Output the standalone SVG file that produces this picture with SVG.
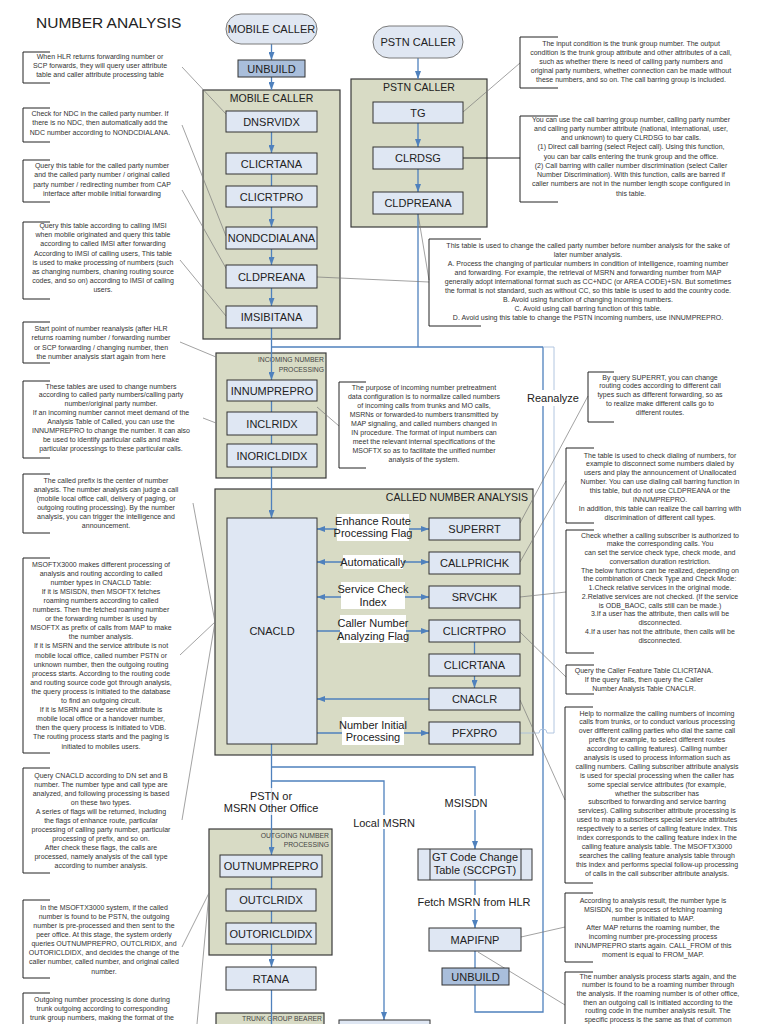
<svg xmlns="http://www.w3.org/2000/svg" width="768" height="1024" viewBox="0 0 768 1024">
<defs>
<marker id="ah" viewBox="0 0 8 6" refX="8" refY="3" markerWidth="8" markerHeight="6" markerUnits="userSpaceOnUse" orient="auto-start-reverse"><path d="M0,0 L8,3 L0,6 z" fill="#4f81bd"/></marker>
<style>
.node rect{fill:#dfe7f3;stroke:#333;stroke-width:1}
.node rect.dark{fill:#a9bedb}
.term rect{fill:#e0e7f2;stroke:#7a7a7a;stroke-width:1}
.nt{font-family:"Liberation Sans",Arial,sans-serif;font-size:11px;fill:#222;text-anchor:middle}
.grp{fill:#d8dbc5;stroke:#3a3a3a;stroke-width:1.2}
.gt{font-family:"Liberation Sans",Arial,sans-serif;font-size:10.5px;fill:#222}
.sg{font-family:"Liberation Sans",Arial,sans-serif;font-size:6.8px;fill:#444;text-anchor:end}
.ann{font-family:"Liberation Sans",Arial,sans-serif;font-size:7px;fill:#333;text-anchor:middle}
.br{fill:none;stroke:#222;stroke-width:1}
.cl{fill:none;stroke:#4f81bd;stroke-width:1.3}
.ca{fill:none;stroke:#4f81bd;stroke-width:1.3;marker-end:url(#ah)}
.cd{fill:none;stroke:#4f81bd;stroke-width:1.3;marker-end:url(#ah);marker-start:url(#ah)}
.lead{fill:none;stroke:#7a7a7a;stroke-width:0.7}
.lbl{font-family:"Liberation Sans",Arial,sans-serif;font-size:11px;fill:#222;text-anchor:middle}
.bg{fill:#fff}
</style>
</defs>
<rect width="768" height="1024" fill="#fff"/>
<text x="36" y="27.5" font-family="Liberation Sans, Arial, sans-serif" font-size="15.5" fill="#222">NUMBER ANALYSIS</text>

<!-- group frames -->
<g id="grp-mobile"><rect class="grp" x="203" y="90" width="137" height="249"/><text class="gt" x="271.5" y="102" text-anchor="middle">MOBILE CALLER</text></g>
<g id="grp-pstn"><rect class="grp" x="351" y="79" width="136" height="148"/><text class="gt" x="419" y="90.5" text-anchor="middle">PSTN CALLER</text></g>
<g id="grp-incoming"><rect class="grp" x="216" y="353" width="110" height="125"/><text class="sg" x="324" y="362">INCOMING NUMBER</text><text class="sg" x="324" y="371.5">PROCESSING</text></g>
<g id="grp-called"><rect class="grp" x="215" y="489" width="318" height="266"/><text class="gt" x="528" y="501" text-anchor="end">CALLED NUMBER ANALYSIS</text></g>
<g id="grp-outgoing"><rect class="grp" x="209" y="829" width="123" height="126"/><text class="sg" x="329" y="837.5">OUTGOING NUMBER</text><text class="sg" x="329" y="847">PROCESSING</text></g>
<g id="grp-trunk"><rect class="grp" x="216" y="1013" width="108" height="20"/><text class="sg" x="322" y="1020.5">TRUNK GROUP BEARER</text></g>

<g id="connectors">
<path class="ca" d="M271.5,44 V60"/>
<path class="ca" d="M271.5,77 V90"/>
<path class="ca" d="M271.5,132 V153"/>
<path class="cl" d="M271.5,174 V186"/>
<path class="ca" d="M271.5,207 V227"/>
<path class="ca" d="M271.5,249 V265"/>
<path class="ca" d="M271.5,288 V306"/>
<path class="ca" d="M271.5,328 V380"/>
<path class="ca" d="M418,58 V79"/>
<path class="ca" d="M418,123 V147"/>
<path class="ca" d="M418,169 V192"/>
<path class="cl" d="M418,214 V347"/>
<path class="cl" d="M271.5,347 H543"/>
<path class="cl" d="M271.5,401 V412 M271.5,435 V444"/>
<path class="ca" d="M271.5,467 V518"/>
<path class="cd" d="M317,529 H429"/>
<path class="cd" d="M317,562 H429"/>
<path class="cd" d="M317,597 H429"/>
<path class="ca" d="M317,631 H429"/>
<path class="cl" d="M474.5,642 V654"/>
<path class="ca" d="M474.5,676 V688"/>
<path class="ca" d="M429,699 H317"/>
<path class="ca" d="M317,733 H429"/>
<path class="ca" d="M271.5,744 V855"/>
<path class="ca" d="M271.5,767 H475 V849"/>
<path class="ca" d="M271.5,781 H384 V1020"/>
<path class="cl" d="M271.5,877 V889 M271.5,911 V923"/>
<path class="ca" d="M271.5,944 V967"/>
<path class="cl" d="M271.5,990 V1030"/>
<path class="ca" d="M475,880 V928"/>
<path class="cl" d="M475,951 V968"/>
<path class="cl" d="M475,985 V1012 H543 V347"/>
<path fill="none" stroke="#a9bfdc" stroke-width="0.9" d="M520,733 H539 A4,4 0 0 1 547,733 H554 V347 H543"/>
<!-- leader lines -->
<path class="lead" d="M182,67 L226,114"/>
<path class="lead" d="M182,125 L226,236"/>
<path class="lead" d="M182,190 L227,270"/>
<path class="lead" d="M180,260 L226,316"/>
<path class="lead" d="M180,342 L216,357"/>
<path class="lead" d="M203,418 L216,423"/>
<path class="lead" d="M463,112 L520,63"/>
<path fill="none" stroke="#222" stroke-width="1" d="M463,158 L520,158"/>
<path class="lead" d="M317,277 L429,282"/>
<path class="lead" d="M418,214 L429,280"/>
<path class="lead" d="M317,407 L339,426"/>
<path class="lead" d="M520,523 L588,396"/>
<path class="lead" d="M520,562 L566,481"/>
<path class="lead" d="M520,597 L566,592"/>
<path class="lead" d="M520,632 L566,677"/>
<path class="lead" d="M520,700 L565,800"/>
<path class="lead" d="M521,937 L565,927"/>
<path class="lead" d="M478,952 L565,1005"/>
<path class="lead" d="M193,503 L215,622"/>
<path class="lead" d="M180,655 L215,622"/>
<path class="lead" d="M182,820 L215,622"/>
<path class="lead" d="M182,947 L209,893"/>
<path class="lead" d="M197,1024 L209,893"/>
</g>

<!-- nodes -->
<g id="mobile-caller-start" class="term"><rect x="226" y="14" width="91" height="30" rx="15"/><text class="nt" x="271.5" y="33">MOBILE CALLER</text></g>
<g id="pstn-caller-start" class="term"><rect x="373" y="26" width="90" height="32" rx="16"/><text class="nt" x="418" y="46">PSTN CALLER</text></g>
<g id="unbuild-1" class="node"><rect class="dark" x="238" y="60" width="67" height="17"/><text class="nt" x="271.5" y="72.5">UNBUILD</text></g>
<g id="dnsrvidx" class="node"><rect x="226" y="111" width="91" height="21"/><text class="nt" x="271.5" y="125.5">DNSRVIDX</text></g>
<g id="clicrtana-1" class="node"><rect x="226" y="153" width="91" height="21"/><text class="nt" x="271.5" y="167.5">CLICRTANA</text></g>
<g id="clicrtpro-1" class="node"><rect x="226" y="186" width="91" height="21"/><text class="nt" x="271.5" y="200.5">CLICRTPRO</text></g>
<g id="nondcdialana" class="node"><rect x="226" y="227" width="91" height="22"/><text class="nt" x="271.5" y="242">NONDCDIALANA</text></g>
<g id="cldpreana-m" class="node"><rect x="226" y="265" width="91" height="23"/><text class="nt" x="271.5" y="280.5">CLDPREANA</text></g>
<g id="imsibitana" class="node"><rect x="226" y="306" width="91" height="22"/><text class="nt" x="271.5" y="321">IMSIBITANA</text></g>
<g id="tg" class="node"><rect x="373" y="102" width="90" height="21"/><text class="nt" x="418" y="116.5">TG</text></g>
<g id="clrdsg" class="node"><rect x="373" y="147" width="90" height="22"/><text class="nt" x="418" y="162">CLRDSG</text></g>
<g id="cldpreana-p" class="node"><rect x="373" y="192" width="90" height="22"/><text class="nt" x="418" y="207">CLDPREANA</text></g>
<g id="innumprepro" class="node"><rect x="227" y="380" width="90" height="21"/><text class="nt" x="272" y="394.5">INNUMPREPRO</text></g>
<g id="inclridx" class="node"><rect x="227" y="412" width="90" height="23"/><text class="nt" x="272" y="427.5">INCLRIDX</text></g>
<g id="inoricldidx" class="node"><rect x="227" y="444" width="90" height="23"/><text class="nt" x="272" y="459.5">INORICLDIDX</text></g>
<g id="cnacld" class="node"><rect x="227" y="518" width="90" height="226"/><text class="nt" x="272" y="635">CNACLD</text></g>
<g id="superrt" class="node"><rect x="429" y="518" width="91" height="22"/><text class="nt" x="474.5" y="533">SUPERRT</text></g>
<g id="callprichk" class="node"><rect x="429" y="552" width="91" height="22"/><text class="nt" x="474.5" y="567">CALLPRICHK</text></g>
<g id="srvchk" class="node"><rect x="429" y="586" width="91" height="22"/><text class="nt" x="474.5" y="601">SRVCHK</text></g>
<g id="clicrtpro-2" class="node"><rect x="429" y="620" width="91" height="22"/><text class="nt" x="474.5" y="635">CLICRTPRO</text></g>
<g id="clicrtana-2" class="node"><rect x="429" y="654" width="91" height="22"/><text class="nt" x="474.5" y="669">CLICRTANA</text></g>
<g id="cnaclr" class="node"><rect x="429" y="688" width="91" height="22"/><text class="nt" x="474.5" y="703">CNACLR</text></g>
<g id="pfxpro" class="node"><rect x="429" y="722" width="91" height="22"/><text class="nt" x="474.5" y="737">PFXPRO</text></g>
<g id="sccpgt" class="node"><rect x="418" y="849" width="114" height="31"/><path d="M430,849 V880 M521,849 V880" stroke="#333" stroke-width="1"/><text class="nt" x="475" y="861">GT Code Change</text><text class="nt" x="475" y="873.5">Table (SCCPGT)</text></g>
<g id="mapifnp" class="node"><rect x="429" y="928" width="92" height="23"/><text class="nt" x="475" y="943.5">MAPIFNP</text></g>
<g id="unbuild-2" class="node"><rect class="dark" x="442" y="968" width="67" height="17"/><text class="nt" x="475.5" y="980.5">UNBUILD</text></g>
<g id="outnumprepro" class="node"><rect x="220" y="855" width="102" height="22"/><text class="nt" x="271" y="870">OUTNUMPREPRO</text></g>
<g id="outclridx" class="node"><rect x="226" y="889" width="90" height="22"/><text class="nt" x="271" y="904">OUTCLRIDX</text></g>
<g id="outoricldidx" class="node"><rect x="226" y="923" width="90" height="21"/><text class="nt" x="271" y="937.5">OUTORICLDIDX</text></g>
<g id="rtana" class="node"><rect x="226" y="967" width="90" height="23"/><text class="nt" x="271" y="982.5">RTANA</text></g>
<g id="local-msrn-target" class="node"><rect x="339" y="1020" width="91" height="22"/></g>

<!-- connector labels -->
<g id="connector-labels">
<rect class="bg" x="337" y="514" width="72" height="27"/>
<text class="lbl" x="373" y="525">Enhance Route</text><text class="lbl" x="373" y="537">Processing Flag</text>
<rect class="bg" x="343" y="555" width="60" height="14"/>
<text class="lbl" x="373" y="566">Automatically</text>
<rect class="bg" x="341" y="582" width="64" height="27"/>
<text class="lbl" x="373" y="593">Service Check</text><text class="lbl" x="373" y="606">Index</text>
<rect class="bg" x="340" y="615" width="66" height="28"/>
<text class="lbl" x="373" y="627">Caller Number</text><text class="lbl" x="373" y="640">Analyzing Flag</text>
<rect class="bg" x="342" y="717" width="62" height="28"/>
<text class="lbl" x="373" y="729">Number Initial</text><text class="lbl" x="373" y="741">Processing</text>
<rect class="bg" x="528" y="390" width="51" height="16"/>
<text class="lbl" x="553" y="402">Reanalyze</text>
<rect x="224" y="788" width="95" height="27" fill="#fff" opacity="0.75"/>
<text class="lbl" x="271" y="800">PSTN or</text><text class="lbl" x="271" y="812">MSRN Other Office</text>
<rect class="bg" x="355" y="815" width="59" height="14"/>
<text class="lbl" x="384" y="827">Local MSRN</text>
<rect class="bg" x="445" y="796" width="42" height="14"/>
<text class="lbl" x="466" y="807" font-size="10.5">MSISDN</text>
<rect class="bg" x="422" y="895" width="105" height="14"/>
<text class="lbl" x="474" y="906" font-size="10.5">Fetch MSRN from HLR</text>
</g>

<!-- annotations -->
<g id="note-a1"><path class="br" d="M50,52 H23 V83 H50"/><text class="ann"><tspan x="100" y="59">When HLR returns forwarding number or</tspan><tspan x="100" y="68">SCP forwards, they will query user attribute</tspan><tspan x="100" y="77">table and caller attribute processing table</tspan></text></g>
<g id="note-a2"><path class="br" d="M50,108 H23 V142 H50"/><text class="ann"><tspan x="100" y="115.5">Check for NDC in the called party number. If</tspan><tspan x="100" y="125">there is no NDC, then automatically add the</tspan><tspan x="100" y="134.5">NDC number according to NONDCDIALANA.</tspan></text></g>
<g id="note-a3"><path class="br" d="M50,160 H23 V202 H50"/><text class="ann"><tspan x="102" y="168">Query this table for the called party number</tspan><tspan x="102" y="177.3">and the called party number / original called</tspan><tspan x="102" y="186.6">party number / redirecting number from CAP</tspan><tspan x="102" y="196">interface after mobile initial forwarding</tspan></text></g>
<g id="note-a4"><path class="br" d="M50,222 H23 V299 H50"/><text class="ann"><tspan x="103" y="228">Query this table according to calling IMSI</tspan><tspan x="103" y="237.2">when mobile originated and query this table</tspan><tspan x="103" y="246.4">according to called IMSI after forwarding</tspan><tspan x="103" y="255.6">According to IMSI of calling users, This table</tspan><tspan x="103" y="264.8">is used to make processing of numbers (such</tspan><tspan x="103" y="274">as changing numbers, chaning routing source</tspan><tspan x="103" y="283.2">codes, and so on) according to IMSI of calling</tspan><tspan x="103" y="292.4">users.</tspan></text></g>
<g id="note-a5"><path class="br" d="M50,322 H23 V363 H50"/><text class="ann"><tspan x="101" y="330.5">Start point of number reanalysis (after HLR</tspan><tspan x="101" y="340">returns roaming number / forwarding number</tspan><tspan x="101" y="349.5">or SCP forwarding / changing number, then</tspan><tspan x="101" y="359">the number analysis start again from here</tspan></text></g>
<g id="note-a6"><path class="br" d="M50,381 H23 V458 H50"/><text class="ann"><tspan x="111" y="388.5">These tables are used to change numbers</tspan><tspan x="111" y="397.4">according to called party numbers/calling party</tspan><tspan x="111" y="406.3">number/original party number.</tspan><tspan x="111" y="415.2">If an incoming number cannot meet demand of the</tspan><tspan x="111" y="424.1">Analysis Table of Called, you can use the</tspan><tspan x="111" y="433">INNUMPREPRO to change the number.   It can also</tspan><tspan x="111" y="441.9">be used to identify particular calls and make</tspan><tspan x="111" y="450.8">particular processings to these particular calls.</tspan></text></g>
<g id="note-a8"><path class="br" d="M50,474 H23 V533 H50"/><text class="ann"><tspan x="106" y="482.5">The called prefix is the center of number</tspan><tspan x="106" y="491.5">analysis. The number analysis can judge a call</tspan><tspan x="106" y="500.5">(mobile local office call, delivery of paging, or</tspan><tspan x="106" y="509.5">outgoing routing processing). By the number</tspan><tspan x="106" y="518.5">analysis, you can trigger the intelligence and</tspan><tspan x="106" y="527.5">announcement.</tspan></text></g>
<g id="note-a9"><path class="br" d="M50,558 H23 V753 H50"/><text class="ann"><tspan x="101" y="566.5">MSOFTX3000 makes different processing of</tspan><tspan x="101" y="575.6">analysis and routing according to called</tspan><tspan x="101" y="584.7">number types in CNACLD Table:</tspan><tspan x="101" y="593.8">If it is MSISDN, then MSOFTX fetches</tspan><tspan x="101" y="602.9">roaming numbers according to called</tspan><tspan x="101" y="612">numbers. Then the fetched roaming number</tspan><tspan x="101" y="621.1">or the forwarding number is used by</tspan><tspan x="101" y="630.2">MSOFTX as prefix of calls from MAP to make</tspan><tspan x="101" y="639.3">the number analysis.</tspan><tspan x="101" y="648.4">If it is MSRN and the service attribute is not</tspan><tspan x="101" y="657.5">mobile local office, called number PSTN or</tspan><tspan x="101" y="666.6">unknown number, then the outgoing routing</tspan><tspan x="101" y="675.7">process starts. According to the routing code</tspan><tspan x="101" y="684.8">and routing source code got through analysis,</tspan><tspan x="101" y="693.9">the query process is initiated to the database</tspan><tspan x="101" y="703">to find an outgoing circuit.</tspan><tspan x="101" y="712.1">If it is MSRN and the service attribute is</tspan><tspan x="101" y="721.2">mobile local office or a handover number,</tspan><tspan x="101" y="730.3">then the query process is initiated to VDB.</tspan><tspan x="101" y="739.4">The routing process starts and the paging is</tspan><tspan x="101" y="748.5">initiated to mobiles users.</tspan></text></g>
<g id="note-a10"><path class="br" d="M50,768 H23 V873 H50"/><text class="ann"><tspan x="101" y="777.5">Query CNACLD according to DN set and B</tspan><tspan x="101" y="786.5">number. The number type and call type are</tspan><tspan x="101" y="795.5">analyzed, and following processing is based</tspan><tspan x="101" y="804.5">on these two types.</tspan><tspan x="101" y="813.5">A series of flags will be returned, including</tspan><tspan x="101" y="822.5">the flags of enhance route, particular</tspan><tspan x="101" y="831.5">processing of calling party number, particular</tspan><tspan x="101" y="840.5">processing of prefix, and so on.</tspan><tspan x="101" y="849.5">After check these flags, the calls are</tspan><tspan x="101" y="858.5">processed, namely analysis of the call type</tspan><tspan x="101" y="867.5">according to number analysis.</tspan></text></g>
<g id="note-a11"><path class="br" d="M50,900 H23 V978 H50"/><text class="ann"><tspan x="104" y="909.5">In the MSOFTX3000 system, if the called</tspan><tspan x="104" y="918.6">number is found to be PSTN, the outgoing</tspan><tspan x="104" y="927.8">number is pre-processed and then sent to the</tspan><tspan x="104" y="936.9">peer office. At this stage, the system orderly</tspan><tspan x="104" y="946.1">queries OUTNUMPREPRO, OUTCLRIDX, and</tspan><tspan x="104" y="955.2">OUTORICLDIDX, and decides the change of the</tspan><tspan x="104" y="964.3">caller number, called number, and original called</tspan><tspan x="104" y="973.5">number.</tspan></text></g>
<g id="note-a12"><path class="br" d="M50,993 H23 V1030"/><text class="ann"><tspan x="102" y="1001.5">Outgoing number processing is done during</tspan><tspan x="102" y="1010.5">trunk outgoing according to corresponding</tspan><tspan x="102" y="1019.5">trunk group numbers, making the format of the</tspan></text></g>
<g id="note-b1"><path class="br" d="M558,37 H520 V88 H558"/><text class="ann"><tspan x="631" y="45.6">The input condition is the trunk group number. The output</tspan><tspan x="631" y="54.8">condition is the trunk group attribute and other attributes of a call,</tspan><tspan x="631" y="64">such as whether there is need of calling party numbers and</tspan><tspan x="631" y="73.2">original party numbers, whether connection can be made without</tspan><tspan x="631" y="82.4">these numbers, and so on. The call barring group is included.</tspan></text></g>
<g id="note-b2"><path class="br" d="M558,116 H520 V202 H558"/><text class="ann"><tspan x="631" y="121.5">You can use the call barring group number, calling party number</tspan><tspan x="631" y="130.75">and calling party number attribute (national, international, user,</tspan><tspan x="631" y="140">and unknown) to query CLRDSG to bar calls.</tspan><tspan x="631" y="149.25">(1) Direct call barring (select Reject call). Using this function,</tspan><tspan x="631" y="158.5">you can bar calls entering the trunk group and the office.</tspan><tspan x="631" y="167.75">(2) Call barring with caller number discrimination (select Caller</tspan><tspan x="631" y="177">Number Discrimination). With this function, calls are barred if</tspan><tspan x="631" y="186.25">caller numbers are not in the number length scope configured in</tspan><tspan x="631" y="195.5">this table.</tspan></text></g>
<g id="note-b3"><path class="br" d="M481,239 H429 V326 H481"/><text class="ann"><tspan x="588" y="247.5">This table is used to change the called party number before number analysis for the sake of</tspan><tspan x="588" y="256.5">later number analysis.</tspan><tspan x="588" y="265.5">A. Process the changing of particular numbers in condition of intelligence, roaming number</tspan><tspan x="588" y="274.5">and forwarding. For example, the retrieval of MSRN and forwarding number from MAP</tspan><tspan x="588" y="283.5">generally adopt international format such as CC+NDC (or AREA CODE)+SN. But sometimes</tspan><tspan x="588" y="292.5">the format is not standard, such as without CC, so this table is used to add the country code.</tspan><tspan x="588" y="301.5">B. Avoid using function of changing incoming numbers.</tspan><tspan x="588" y="310.5">C. Avoid using call barring function of this table.</tspan><tspan x="588" y="319.5">D. Avoid using this table to change the PSTN incoming numbers, use INNUMPREPRO.</tspan></text></g>
<g id="note-a7"><path class="br" d="M366,382 H339 V468 H366"/><text class="ann"><tspan x="424" y="389.5">The purpose of incoming number pretreatment</tspan><tspan x="424" y="398.6">data configuration is to normalize called numbers</tspan><tspan x="424" y="407.7">of incoming calls from trunks and MO calls,</tspan><tspan x="424" y="416.8">MSRNs or forwarded-to numbers transmitted by</tspan><tspan x="424" y="425.9">MAP signaling, and called numbers changed in</tspan><tspan x="424" y="435">IN procedure. The format of input numbers can</tspan><tspan x="424" y="444.1">meet the relevant internal specifications of the</tspan><tspan x="424" y="453.2">MSOFTX so as to facilitate the unified number</tspan><tspan x="424" y="462.3">analysis of the system.</tspan></text></g>
<g id="note-r1"><path class="br" d="M614,372 H588 V422 H614"/><text class="ann"><tspan x="660" y="379.5">By query SUPERRT, you can change</tspan><tspan x="660" y="388.3">routing codes according to different call</tspan><tspan x="660" y="397.1">types such as different forwarding, so as</tspan><tspan x="660" y="405.9">to realize make different calls go to</tspan><tspan x="660" y="414.7">different routes.</tspan></text></g>
<g id="note-r2"><path class="br" d="M594,448 H566 V523 H594"/><text class="ann"><tspan x="660" y="457.5">The table is used to check dialing of numbers, for</tspan><tspan x="660" y="466.4">example to disconnect some numbers dialed by</tspan><tspan x="660" y="475.2">users and play the announcement of Unallocated</tspan><tspan x="660" y="484.1">Number. You can use dialing call barring function in</tspan><tspan x="660" y="492.9">this table, but do not use CLDPREANA or the</tspan><tspan x="660" y="501.8">INNUMPREPRO.</tspan><tspan x="660" y="510.7">In addition, this table can realize the call barring with</tspan><tspan x="660" y="519.5">discrimination of different call types.</tspan></text></g>
<g id="note-r3"><path class="br" d="M594,530 H566 V653 H594"/><text class="ann"><tspan x="660" y="537.5">Check whether a calling subscriber is authorized to</tspan><tspan x="660" y="546.25">make the corresponding calls. You</tspan><tspan x="660" y="555">can set the service check type, check mode, and</tspan><tspan x="660" y="563.75">conversation duration restriction.</tspan><tspan x="660" y="572.5">The below functions can be realized, depending on</tspan><tspan x="660" y="581.25">the combination of Check Type and Check Mode:</tspan><tspan x="660" y="590">1.Check relative services in the original mode.</tspan><tspan x="660" y="598.75">2.Relative services are not checked. (If the service</tspan><tspan x="660" y="607.5">is ODB_BAOC, calls still can be made.)</tspan><tspan x="660" y="616.25">3.If a user has the attribute, then calls will be</tspan><tspan x="660" y="625">disconnected.</tspan><tspan x="660" y="633.75">4.If a user has not the attribute, then calls will be</tspan><tspan x="660" y="642.5">disconnected.</tspan></text></g>
<g id="note-r4"><path class="br" d="M594,665 H566 V694 H594"/><text class="ann"><tspan x="644" y="672.5">Query the Caller Feature Table CLICRTANA.</tspan><tspan x="644" y="681.5">If the query fails, then query the Caller</tspan><tspan x="644" y="690.5">Number Analysis Table CNACLR.</tspan></text></g>
<g id="note-r5"><path class="br" d="M593,707 H565 V883 H593"/><text class="ann"><tspan x="657" y="715.5">Help to normalize the calling numbers of incoming</tspan><tspan x="657" y="724.4">calls from trunks, or to conduct various processing</tspan><tspan x="657" y="733.3">over different calling parties who dial the same call</tspan><tspan x="657" y="742.2">prefix (for example, to select different routes</tspan><tspan x="657" y="751.1">according to calling features). Calling number</tspan><tspan x="657" y="760">analysis is used to process information such as</tspan><tspan x="657" y="768.8">calling numbers. Calling subscriber attribute analysis</tspan><tspan x="657" y="777.7">is used for special processing when the caller has</tspan><tspan x="657" y="786.6">some special service attributes (for example,</tspan><tspan x="657" y="795.5">whether the subscriber has</tspan><tspan x="657" y="804.4">subscribed to forwarding and service barring</tspan><tspan x="657" y="813.3">services). Calling subscriber attribute processing is</tspan><tspan x="657" y="822.2">used to map a subscribers special service attributes</tspan><tspan x="657" y="831.1">respectively to a series of calling feature index. This</tspan><tspan x="657" y="840">index corresponds to the calling feature index in the</tspan><tspan x="657" y="848.9">calling feature analysis table. The MSOFTX3000</tspan><tspan x="657" y="857.7">searches the calling feature analysis table through</tspan><tspan x="657" y="866.6">this index and performs special follow-up processing</tspan><tspan x="657" y="875.5">of calls in the call subscriber attribute analysis.</tspan></text></g>
<g id="note-r6"><path class="br" d="M593,893 H565 V962 H593"/><text class="ann"><tspan x="653" y="902.5">According to analysis result, the number type is</tspan><tspan x="653" y="911.5">MSISDN, so the process of fetching roaming</tspan><tspan x="653" y="920.5">number is initiated to MAP.</tspan><tspan x="653" y="929.5">After MAP returns the roaming number, the</tspan><tspan x="653" y="938.5">incoming number pre-processing process</tspan><tspan x="653" y="947.5">INNUMPREPRO starts again. CALL_FROM of this</tspan><tspan x="653" y="956.5">moment is equal to FROM_MAP.</tspan></text></g>
<g id="note-r7"><path class="br" d="M593,972 H565 V1030"/><text class="ann"><tspan x="658" y="978.5">The number analysis process starts again, and the</tspan><tspan x="658" y="987.2">number is found to be a roaming number through</tspan><tspan x="658" y="995.9">the analysis. If the roaming number is of other office,</tspan><tspan x="658" y="1004.6">then an outgoing call is initiated according to the</tspan><tspan x="658" y="1013.3">routing code in the number analysis result. The</tspan><tspan x="658" y="1021.8">specific process is the same as that of common</tspan></text></g>
</svg>
